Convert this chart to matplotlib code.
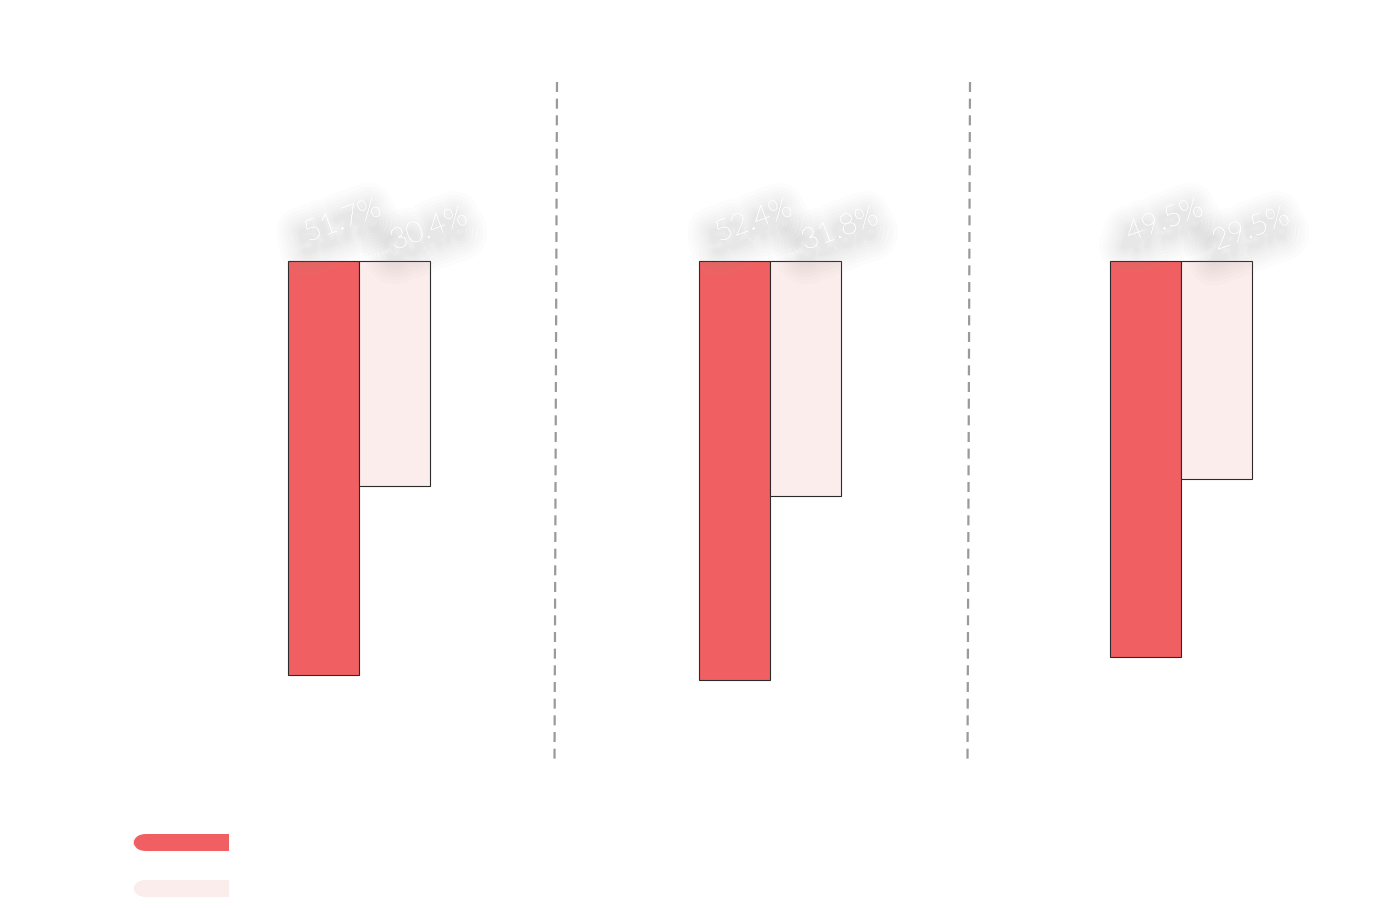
import matplotlib
matplotlib.use('Agg')
import matplotlib.pyplot as plt
import matplotlib.patheffects as pe
from matplotlib.patches import FancyBboxPatch, Rectangle

# values (labels on the bars)
groups = ['Group 1', 'Group 2', 'Group 3']
series_1 = [51.7, 52.4, 49.5]
series_2 = [30.4, 31.8, 29.5]

red = '#F06062'
pink = '#FCEDED'

W, H = 1386, 908
fig = plt.figure(figsize=(W / 100, H / 100), dpi=100)
fig.patch.set_facecolor('white')

# axes spans pixel rows 82..762, baseline of bars at row 261
ax = fig.add_axes([153 / W, (H - 762) / H, 1233 / W, 680 / H])
ax2 = ax.twinx()  # second series drawn on its own scale
ax.set_xlim(-0.5, 2.5)
px1, px2 = 8.0, 7.39  # pixels per percent on each scale
ax.set_ylim(501 / px1, -179 / px1)
ax2.set_ylim(501 / px2, -179 / px2)
ax.axis('off')
ax2.axis('off')

bw = 71 / 411
xs = list(range(len(groups)))
b1 = ax.bar([x - bw / 2 for x in xs], series_1, width=bw, color=red,
            edgecolor='#2b2b2b', linewidth=0.8, zorder=3)
b2 = ax2.bar([x + bw / 2 for x in xs], series_2, width=bw, color=pink,
             edgecolor='#2b2b2b', linewidth=0.8, zorder=3)

# soft grey shadow behind white labels
shadow = [pe.withStroke(linewidth=w, foreground='#a0a0a0', alpha=0.03, offset=(-3, -8))
          for w in (36, 30, 25, 20, 15, 11, 7, 4)]
shadow.append(pe.Normal())

for a, bars, dx, dy in ((ax, b1, 14, 29), (ax2, b2, 25, 23)):
    for r in bars:
        v = r.get_height()
        a.annotate(f'{v:.1f}%', (r.get_x() + r.get_width() / 2, 0),
                   xytext=(dx, dy), textcoords='offset points',
                   ha='center', va='center', rotation=20, fontsize=21,
                   family='Lato', weight='light', color='white',
                   path_effects=shadow, zorder=5)

# dashed dividers between groups (slightly tilted)
for top_x, bot_x in ((557.5, 555), (970.5, 968)):
    x0 = (top_x - 359) / 411
    x1 = (bot_x - 359) / 411
    ax.plot([x0, x1], [-179 / px1, 501 / px1], color='#9a9a9a', lw=1.6,
            dashes=(4.5, 3), zorder=1, clip_on=False)

# legend swatches: rounded on the left, cut square on the right
for color, ytop in ((red, 834), (pink, 880)):
    clip = Rectangle((0, 0), 229 / W, 1, transform=fig.transFigure)
    p = FancyBboxPatch((133 / W, (H - ytop - 17) / H), 120 / W, 17 / H,
                       boxstyle='round,pad=0,rounding_size=0.0093',
                       transform=fig.transFigure, facecolor=color,
                       edgecolor='none', mutation_aspect=W / H)
    fig.add_artist(p)
    p.set_clip_path(clip)

fig.savefig('out.png', dpi=100, facecolor='white')
